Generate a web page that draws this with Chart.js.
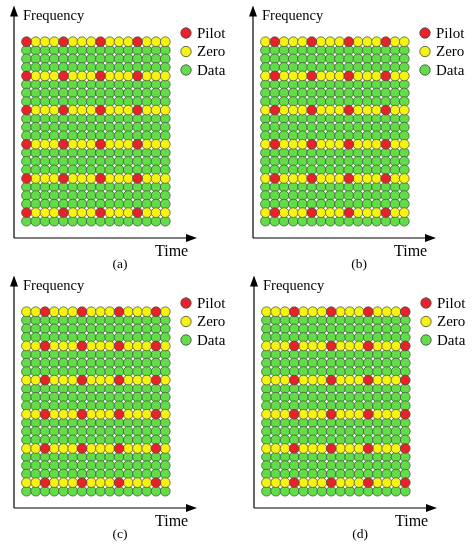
<!DOCTYPE html>
<html><head><meta charset="utf-8">
<script src="https://cdn.jsdelivr.net/npm/chart.js@4/dist/chart.umd.min.js"></script>
<style>body{margin:0;background:#fff;width:474px;height:544px;position:relative;overflow:hidden}canvas{position:absolute}</style>
</head><body>
<canvas id="a" width="237" height="272" style="left:0;top:0"></canvas>
<canvas id="b" width="237" height="272" style="left:239px;top:0"></canvas>
<canvas id="c" width="237" height="272" style="left:0;top:270px"></canvas>
<canvas id="d" width="237" height="272" style="left:240px;top:270px"></canvas>
<script>
const panelIds = ['a','b','c','d'];
const panelLabels = ['(a)','(b)','(c)','(d)'];
const timeCols = [0,1,2,3,4,5,6,7,8,9,10,11,12,13,14,15];
const freqRows = [0,1,2,3,4,5,6,7,8,9,10,11,12,13,14,15,16,17,18,19,20,21]; // 0 = top row
const pilotRows = [0,4,8,12,16,20];
const pilotColsPerPanel = [[0,4,8,12],[1,5,9,13],[2,6,10,14],[3,7,11,15]];
const legendNames = ['Pilot','Zero','Data'];
const colors = {Pilot:'#e8222a', Zero:'#f6f212', Data:'#62dc48'};

const decor = {
  id:'decor',
  afterDraw(chart, args, opts){
    const c = chart.ctx, a = chart.chartArea;
    c.save();
    c.strokeStyle='#000'; c.fillStyle='#000'; c.lineWidth=1.2;
    c.beginPath(); c.moveTo(a.left, a.bottom); c.lineTo(a.left, a.top+8); c.stroke();
    c.beginPath(); c.moveTo(a.left, a.top); c.lineTo(a.left-4, a.top+11); c.lineTo(a.left+4, a.top+11); c.closePath(); c.fill();
    c.beginPath(); c.moveTo(a.left, a.bottom); c.lineTo(a.right-8, a.bottom); c.stroke();
    c.beginPath(); c.moveTo(a.right, a.bottom); c.lineTo(a.right-11, a.bottom-4); c.lineTo(a.right-11, a.bottom+4); c.closePath(); c.fill();
    c.font='14.5px "Liberation Serif"'; c.textBaseline='alphabetic'; c.textAlign='left';
    c.fillText('Frequency', a.left+9, 20);
    c.font='16px "Liberation Serif"';
    c.fillText('Time', 155, 256);
    c.textAlign='center'; c.font='13.5px "Liberation Serif"';
    c.fillText(opts.label, 120, 268);
    c.textAlign='left'; c.font='15px "Liberation Serif"'; c.textBaseline='middle';
    legendNames.forEach((n,i)=>{
      const y = 33 + i*18.5;
      c.beginPath(); c.arc(186, y, 5.2, 0, Math.PI*2);
      c.fillStyle=colors[n]; c.fill(); c.strokeStyle='#444'; c.lineWidth=0.8; c.stroke();
      c.fillStyle='#000'; c.fillText(n, 197, y+1);
    });
    c.restore();
  }
};

panelIds.forEach((id, p)=>{
  const pc = pilotColsPerPanel[p];
  const sets = {Pilot:[], Zero:[], Data:[]};
  freqRows.forEach(r=>{
    timeCols.forEach(t=>{
      const y = freqRows.length-1-r;
      if (pilotRows.includes(r)) (pc.includes(t)?sets.Pilot:sets.Zero).push({x:t,y});
      else sets.Data.push({x:t,y});
    });
  });
  new Chart(document.getElementById(id), {
    type:'scatter',
    data:{datasets: legendNames.map(n=>({label:n, data:sets[n], backgroundColor:colors[n],
      borderColor:'#3d4a3a', borderWidth:0.7, pointRadius:4.9, clip:false}))},
    options:{
      responsive:false, animation:false, events:[],
      layout:{padding:{left:14, top:3, right:40, bottom:34}},
      scales:{
        x:{display:false, min:-1.35, max:18.43},
        y:{display:false, min:-1.97, max:25.23}
      },
      plugins:{legend:{display:false}, tooltip:{enabled:false}, decor:{label:panelLabels[p]}}
    },
    plugins:[decor]
  });
});
</script>
</body></html>
